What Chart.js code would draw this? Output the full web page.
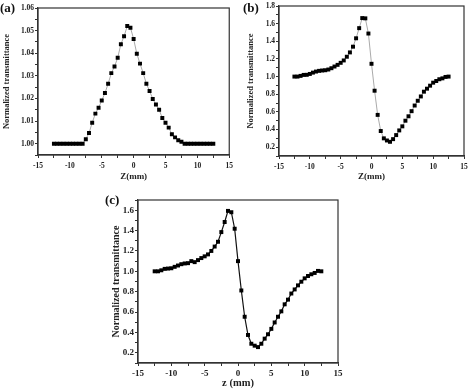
<!DOCTYPE html>
<html>
<head>
<meta charset="utf-8">
<script src="https://cdn.jsdelivr.net/npm/chart.js@4.4.1/dist/chart.umd.min.js"></script>
<style>
  body { margin: 0; background: #fff; }
  .wrap { position: absolute; }
  .tag { position: absolute; font: bold 13px "Liberation Serif", serif; color: #111; }
</style>
</head>
<body>
<div class="wrap" id="boxA" style="left:0;top:0;width:237px;height:190px"><canvas id="chartA"></canvas></div>
<div class="wrap" id="boxB" style="left:237px;top:0;width:237px;height:190px"><canvas id="chartB"></canvas></div>
<div class="wrap" id="boxC" style="left:100px;top:190px;width:260px;height:200px"><canvas id="chartC"></canvas></div>
<div class="tag" style="left:0;top:0">(a)</div>
<div class="tag" style="left:243px;top:0">(b)</div>
<div class="tag" style="left:105px;top:192px">(c)</div>
<script>
// sample positions z (mm)
const zPos = [-12.5, -12, -11.5, -11, -10.5, -10, -9.5, -9, -8.5, -8, -7.5, -7, -6.5, -6, -5.5, -5, -4.5, -4, -3.5, -3, -2.5, -2, -1.5, -1, -0.5,
  0, 0.5, 1, 1.5, 2, 2.5, 3, 3.5, 4, 4.5, 5, 5.5, 6, 6.5, 7, 7.5, 8, 8.5, 9, 9.5, 10, 10.5, 11, 11.5, 12, 12.5];

// (a)
const transA = [1.000, 1.000, 1.000, 1.000, 1.000, 1.000, 1.000, 1.000, 1.000, 1.000, 1.0020, 1.0047, 1.0093, 1.0133, 1.0159, 1.0191, 1.0224, 1.0265, 1.0312, 1.0341, 1.0380, 1.0440, 1.0475, 1.0520, 1.0513,
  1.0463, 1.0398, 1.0354, 1.0312, 1.0265, 1.0233, 1.0198, 1.0173, 1.0150, 1.0114, 1.0093, 1.0071, 1.0042, 1.0028, 1.0015, 1.0009, 1.000, 1.000, 1.000, 1.000, 1.000, 1.000, 1.000, 1.000, 1.000, 1.000];

// (b)
const transB = [1.00, 1.00, 1.008, 1.019, 1.02, 1.03, 1.045, 1.057, 1.065, 1.069, 1.072, 1.08, 1.095, 1.114, 1.133, 1.156, 1.183, 1.225, 1.274, 1.339, 1.434, 1.549, 1.663, 1.66, 1.488,
  1.145, 0.84, 0.566, 0.383, 0.30, 0.276, 0.261, 0.291, 0.337, 0.39, 0.436, 0.50, 0.55, 0.608, 0.672, 0.726, 0.775, 0.829, 0.863, 0.897, 0.931, 0.95, 0.97, 0.98, 0.996, 1.00];

// (c)
const transC = [1.00, 1.00, 1.01, 1.024, 1.027, 1.03, 1.044, 1.057, 1.07, 1.077, 1.08, 1.10, 1.09, 1.11, 1.13, 1.147, 1.166, 1.20, 1.243, 1.29, 1.385, 1.484, 1.593, 1.58, 1.418,
  1.10, 0.812, 0.554, 0.375, 0.289, 0.27, 0.256, 0.289, 0.339, 0.382, 0.435, 0.498, 0.554, 0.607, 0.676, 0.722, 0.782, 0.822, 0.862, 0.898, 0.931, 0.954, 0.971, 0.984, 1.004, 1.00];

const serif = '"Liberation Serif", "Times New Roman", serif';

const frame = {
  id: 'frame',
  afterDraw(chart) {
    const a = chart.chartArea, ctx = chart.ctx;
    ctx.save();
    ctx.strokeStyle = '#333';
    ctx.lineWidth = 1.2;
    ctx.strokeRect(a.left, a.top, a.right - a.left, a.bottom - a.top);
    ctx.restore();
  }
};

function makeChart(id, vals, opt) {
  const pts = zPos.map((z, i) => ({ x: z, y: vals[i] }));
  return new Chart(document.getElementById(id), {
    type: 'line',
    data: {
      datasets: [{
        data: pts,
        borderColor: opt.lineColor,
        borderWidth: opt.lineWidth,
        pointStyle: 'rect',
        pointRadius: 2.8,
        pointBackgroundColor: '#000',
        pointBorderWidth: 0,
        tension: 0
      }]
    },
    options: {
      responsive: true,
      maintainAspectRatio: false,
      animation: false,
      layout: { padding: opt.pad },
      plugins: { legend: { display: false }, tooltip: { enabled: false } },
      scales: {
        x: {
          type: 'linear',
          min: -15, max: 15,
          afterFit: s => { s.height = opt.xh; },
          ticks: {
            stepSize: 2.5, autoSkip: false, maxRotation: 0, padding: opt.xpad,
            color: '#222', font: { family: serif, weight: 'bold', size: opt.tickSize },
            callback: v => (v % 5 === 0 ? String(v) : '')
          },
          grid: { drawOnChartArea: false, tickLength: 3, tickColor: '#333' },
          border: { color: '#333', width: 1.2 },
          title: { display: true, text: opt.xTitle, color: '#222', padding: { top: 2, bottom: 0 },
            font: { family: serif, weight: 'bold', size: opt.titleSize } }
        },
        y: {
          min: opt.ymin, max: opt.ymax,
          afterFit: s => { s.width = opt.yw; },
          ticks: {
            stepSize: opt.ystep, autoSkip: false, padding: 1,
            color: '#222', font: { family: serif, weight: 'bold', size: opt.tickSize },
            callback: opt.yLabel
          },
          grid: { drawOnChartArea: false, tickLength: 3, tickColor: '#333' },
          border: { color: '#333', width: 1.2 },
          title: { display: true, text: 'Normalized transmittance', color: '#222', padding: { top: 0, bottom: 2 },
            font: { family: serif, weight: 'bold', size: opt.titleSize - 0.5 } }
        }
      }
    },
    plugins: [frame]
  });
}

makeChart('chartA', transA, {
  lineColor: '#aaa', lineWidth: 1,
  pad: { left: 2, right: 6, top: 8, bottom: 8 }, xh: 27, yw: 36, xpad: 4,
  ymin: 0.995, ymax: 1.06, ystep: 0.005,
  yLabel: v => (Math.round(v * 1000) % 10 === 0 ? v.toFixed(2) : ''),
  xTitle: 'Z(mm)', tickSize: 7.5, titleSize: 9
});

makeChart('chartB', transB, {
  lineColor: '#aaa', lineWidth: 1,
  pad: { left: 9, right: 10, top: 6, bottom: 8 }, xh: 26, yw: 33, xpad: 4,
  ymin: 0.1, ymax: 1.8, ystep: 0.1,
  yLabel: v => (Math.round(v * 10) % 2 === 0 ? v.toFixed(1) : ''),
  xTitle: 'Z(mm)', tickSize: 7.5, titleSize: 9
});

makeChart('chartC', transC, {
  lineColor: '#111', lineWidth: 1.2,
  pad: { left: 10, right: 22, top: 10, bottom: 0 }, xh: 27, yw: 28, xpad: 2,
  ymin: 0.1, ymax: 1.7, ystep: 0.1,
  yLabel: v => (Math.round(v * 10) % 2 === 0 ? v.toFixed(1) : ''),
  xTitle: 'z (mm)', tickSize: 9, titleSize: 10.5
});
</script>
</body>
</html>
